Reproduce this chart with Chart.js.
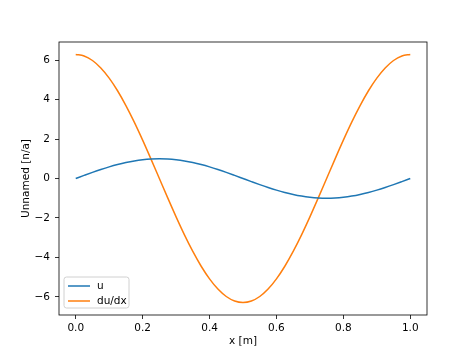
<!DOCTYPE html>
<html>
<head>
<meta charset="utf-8">
<script src="https://cdn.jsdelivr.net/npm/chart.js@4"></script>
<style>
  html, body { margin: 0; padding: 0; background: #fff; }
  #wrap { width: 474px; height: 355px; }
</style>
</head>
<body>
<div id="wrap"><canvas id="plot" width="474" height="355"></canvas></div>
<script>
// values, every 0.025 m
const xs = [0, 0.025, 0.05, 0.075, 0.1, 0.125, 0.15, 0.175, 0.2, 0.225, 0.25,
  0.275, 0.3, 0.325, 0.35, 0.375, 0.4, 0.425, 0.45, 0.475, 0.5,
  0.525, 0.55, 0.575, 0.6, 0.625, 0.65, 0.675, 0.7, 0.725, 0.75,
  0.775, 0.8, 0.825, 0.85, 0.875, 0.9, 0.925, 0.95, 0.975, 1];
const uVals = [0, 0.156, 0.309, 0.454, 0.588, 0.707, 0.809, 0.891, 0.951, 0.988, 1,
  0.988, 0.951, 0.891, 0.809, 0.707, 0.588, 0.454, 0.309, 0.156, 0,
  -0.156, -0.309, -0.454, -0.588, -0.707, -0.809, -0.891, -0.951, -0.988, -1,
  -0.988, -0.951, -0.891, -0.809, -0.707, -0.588, -0.454, -0.309, -0.156, 0];
const duVals = [6.283, 6.206, 5.976, 5.598, 5.083, 4.443, 3.693, 2.853, 1.942, 0.983, 0,
  -0.983, -1.942, -2.853, -3.693, -4.443, -5.083, -5.598, -5.976, -6.206, -6.283,
  -6.206, -5.976, -5.598, -5.083, -4.443, -3.693, -2.853, -1.942, -0.983, 0,
  0.983, 1.942, 2.853, 3.693, 4.443, 5.083, 5.598, 5.976, 6.206, 6.283];
const xTicks = [0, 0.2, 0.4, 0.6, 0.8, 1.0];
const yTicks = [-6, -4, -2, 0, 2, 4, 6];

const pts = (ys) => xs.map((x, i) => ({ x: x, y: ys[i] }));
const fontSpec = { family: "DejaVu Sans", size: 10.5 };

// frame round the plot area + legend box at lower left
const framePlugin = {
  id: "frame",
  afterDatasetsDraw(chart) {
    const { ctx, chartArea: a } = chart;
    ctx.save();
    ctx.strokeStyle = "#000";
    ctx.lineWidth = 0.8;
    ctx.strokeRect(a.left, a.top, a.right - a.left, a.bottom - a.top);

    // legend
    const bx = a.left + 5, bw = 65, bh = 31;
    const by = a.bottom - 7 - bh;
    ctx.beginPath();
    ctx.roundRect(bx, by, bw, bh, 2.5);
    ctx.fillStyle = "rgba(255,255,255,0.8)";
    ctx.fill();
    ctx.strokeStyle = "#d0d0d0";
    ctx.lineWidth = 1;
    ctx.stroke();
    ctx.font = "10.5px 'DejaVu Sans'";
    ctx.textBaseline = "middle";
    chart.data.datasets.forEach((ds, i) => {
      const ly = by + 9 + i * 15;
      ctx.strokeStyle = ds.borderColor;
      ctx.lineWidth = 1.5;
      ctx.beginPath();
      ctx.moveTo(bx + 4, ly);
      ctx.lineTo(bx + 26, ly);
      ctx.stroke();
      ctx.fillStyle = "#000";
      ctx.fillText(ds.label, bx + 33, ly);
    });
    ctx.restore();
  }
};

new Chart(document.getElementById("plot"), {
  type: "line",
  data: {
    datasets: [
      { label: "u", data: pts(uVals), borderColor: "#1f77b4", borderWidth: 1.5,
        pointRadius: 0, cubicInterpolationMode: "monotone", fill: false },
      { label: "du/dx", data: pts(duVals), borderColor: "#ff7f0e", borderWidth: 1.5,
        pointRadius: 0, cubicInterpolationMode: "monotone", fill: false },
    ],
  },
  options: {
    responsive: false,
    animation: false,
    layout: { padding: { left: 0, right: 47, top: 42, bottom: 0 } },
    plugins: { legend: { display: false }, tooltip: { enabled: false } },
    scales: {
      x: {
        type: "linear",
        min: -0.05,
        max: 1.05,
        afterBuildTicks: (s) => { s.ticks = xTicks.map((v) => ({ value: v })); },
        afterFit: (s) => { s.height = 40; },
        grid: { drawOnChartArea: false, drawTicks: true, tickLength: 4, color: "#000", lineWidth: 0.8 },
        border: { display: false },
        ticks: { font: fontSpec, color: "#000", padding: 3, maxRotation: 0,
          callback: (v) => v.toFixed(1) },
        title: { display: true, text: "x [m]", font: fontSpec, color: "#000",
          padding: { top: 0, bottom: 7 } },
      },
      y: {
        type: "linear",
        min: -6.912,
        max: 6.912,
        afterBuildTicks: (s) => { s.ticks = yTicks.map((v) => ({ value: v })); },
        afterFit: (s) => { s.width = 59; },
        grid: { drawOnChartArea: false, drawTicks: true, tickLength: 4, color: "#000", lineWidth: 0.8 },
        border: { display: false },
        ticks: { font: fontSpec, color: "#000", padding: 5,
          callback: (v) => (v < 0 ? "\u2212" + Math.abs(v) : String(v)) },
        title: { display: true, text: "Unnamed [n/a]", font: fontSpec, color: "#000",
          padding: { top: 20, bottom: 0 } },
      },
    },
  },
  plugins: [framePlugin],
});
</script>
</body>
</html>
